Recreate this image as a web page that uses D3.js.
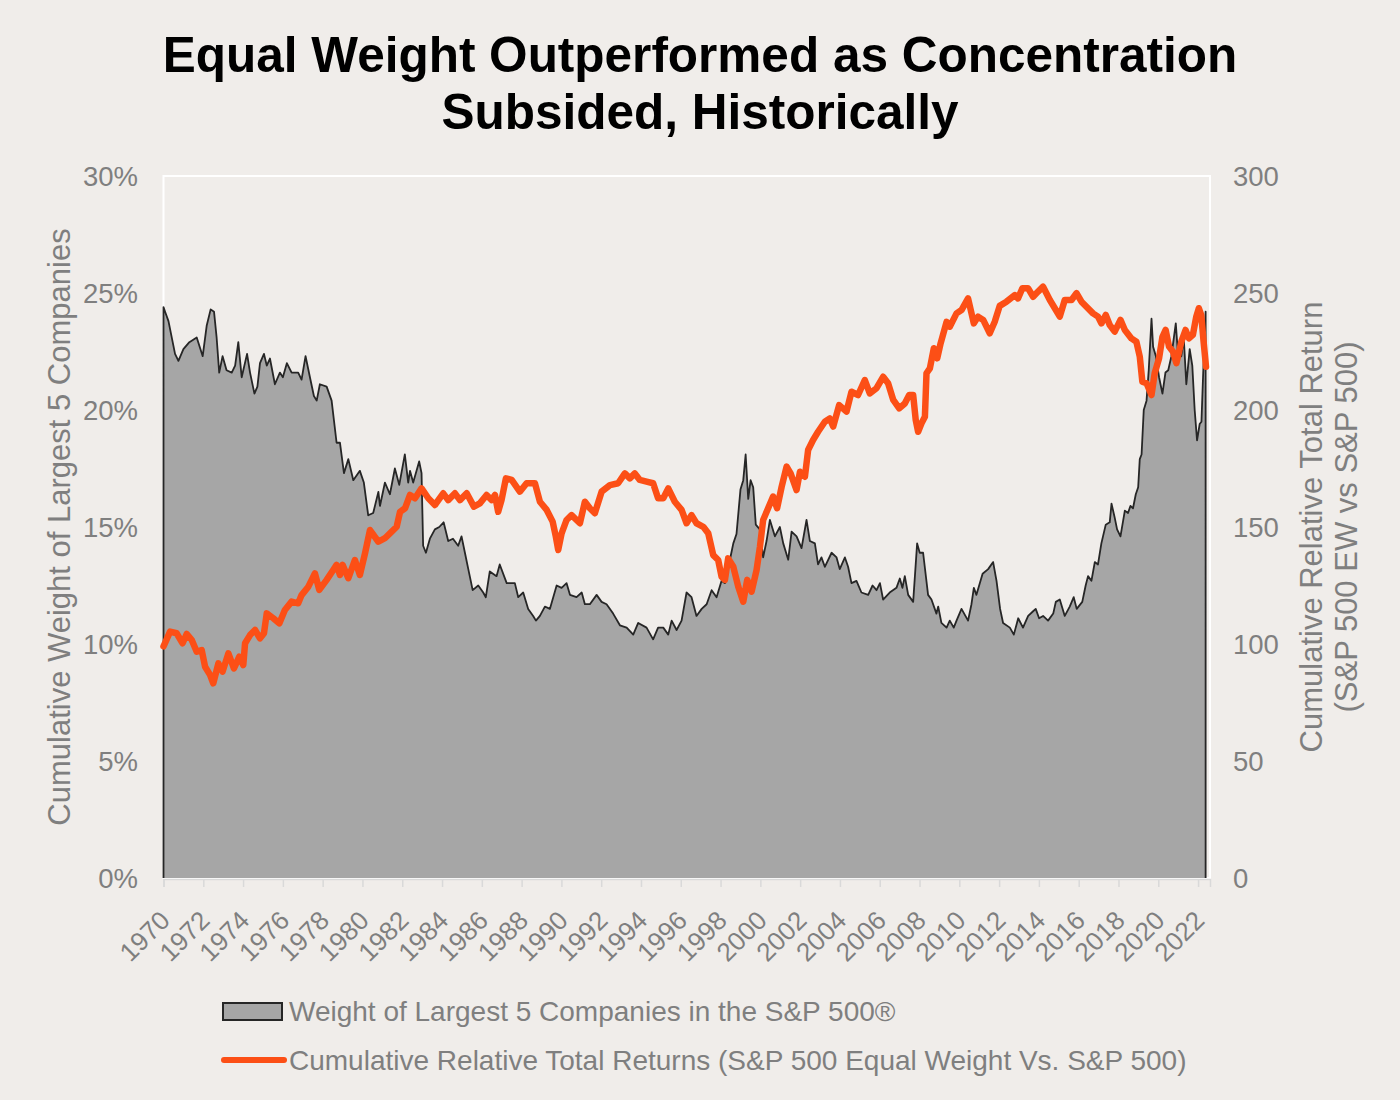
<!DOCTYPE html>
<html>
<head>
<meta charset="utf-8">
<title>Equal Weight Outperformed as Concentration Subsided</title>
<script src="https://cdnjs.cloudflare.com/ajax/libs/d3/7.8.5/d3.min.js"></script>
<style>
    html, body {
        margin: 0;
        padding: 0;
        background-color: #f0edea;
    }
    #chart {
        width: 1400px;
        height: 1100px;
    }
    .axis-text {
        font-family: 'Liberation Sans', Arial, sans-serif;
        fill: #7f7f7f;
    }
</style>
</head>
<body>
<div id="chart"></div>
<script>
    // weight of largest 5 companies (% of S&P 500)
    const weightYears = [
        1970.00, 1970.08, 1970.25, 1970.58, 1970.75, 1971.00, 1971.30, 1971.67, 1971.97, 1972.17,
        1972.37, 1972.54, 1972.67, 1972.80, 1972.97, 1973.17, 1973.43, 1973.60, 1973.76, 1973.93,
        1974.20, 1974.35, 1974.57, 1974.72, 1974.85, 1975.05, 1975.19, 1975.35, 1975.60, 1975.85,
        1976.00, 1976.20, 1976.44, 1976.77, 1976.94, 1977.14, 1977.36, 1977.56, 1977.70, 1977.86,
        1978.20, 1978.45, 1978.70, 1978.87, 1979.07, 1979.29, 1979.54, 1979.87, 1980.07, 1980.29,
        1980.54, 1980.80, 1980.88, 1981.13, 1981.38, 1981.63, 1981.85, 1982.13, 1982.30, 1982.39,
        1982.55, 1982.85, 1982.97, 1983.05, 1983.19, 1983.39, 1983.64, 1983.86, 1984.08, 1984.31,
        1984.55, 1984.81, 1984.98, 1985.15, 1985.32, 1985.54, 1985.82, 1986.07, 1986.20, 1986.40,
        1986.74, 1986.90, 1987.25, 1987.66, 1987.83, 1988.08, 1988.33, 1988.58, 1988.72, 1988.92,
        1989.17, 1989.42, 1989.76, 1990.01, 1990.26, 1990.43, 1990.76, 1991.02, 1991.18, 1991.43,
        1991.77, 1992.02, 1992.27, 1992.60, 1992.94, 1993.28, 1993.61, 1993.86, 1994.28, 1994.61,
        1994.86, 1995.12, 1995.37, 1995.54, 1995.79, 1996.04, 1996.29, 1996.54, 1996.79, 1997.05,
        1997.30, 1997.55, 1997.80, 1998.05, 1998.22, 1998.47, 1998.64, 1998.80, 1999.00, 1999.14,
        1999.26, 1999.39, 1999.51, 1999.64, 1999.77, 1999.97, 2000.14, 2000.31, 2000.48, 2000.73,
        2000.98, 2001.15, 2001.40, 2001.57, 2001.82, 2002.07, 2002.32, 2002.49, 2002.74, 2002.90,
        2003.07, 2003.24, 2003.58, 2003.83, 2003.99, 2004.25, 2004.41, 2004.58, 2004.83, 2005.08,
        2005.42, 2005.64, 2005.84, 2006.01, 2006.17, 2006.50, 2006.84, 2007.01, 2007.14, 2007.26,
        2007.43, 2007.68, 2007.88, 2008.01, 2008.18, 2008.43, 2008.60, 2008.85, 2008.94, 2009.10,
        2009.36, 2009.52, 2009.72, 2009.86, 2010.11, 2010.44, 2010.61, 2010.73, 2010.86, 2011.17,
        2011.45, 2011.70, 2011.87, 2012.05, 2012.20, 2012.54, 2012.74, 2012.96, 2013.20, 2013.46,
        2013.71, 2013.84, 2014.01, 2014.21, 2014.46, 2014.72, 2014.85, 2015.05, 2015.30, 2015.55,
        2015.75, 2015.90, 2016.18, 2016.35, 2016.47, 2016.64, 2016.81, 2016.97, 2017.14, 2017.36,
        2017.56, 2017.65, 2017.81, 2017.93, 2018.10, 2018.32, 2018.48, 2018.60, 2018.73, 2018.87,
        2018.99, 2019.07, 2019.16, 2019.27, 2019.41, 2019.52, 2019.66, 2019.74, 2019.88, 2020.04,
        2020.21, 2020.36, 2020.50, 2020.66, 2020.88, 2020.99, 2021.16, 2021.28, 2021.41, 2021.58,
        2021.71, 2021.83, 2021.95, 2022.08, 2022.17, 2022.25, 2022.38
    ];
    const weightPct = [
        24.4, 24.2, 23.8, 22.4, 22.1, 22.6, 22.9, 23.1, 22.3, 23.6,
        24.3, 24.2, 23.1, 21.6, 22.3, 21.7, 21.6, 21.9, 22.9, 21.4,
        22.4, 21.6, 20.7, 21.0, 22.0, 22.4, 21.9, 22.2, 21.1, 21.6,
        21.4, 22.0, 21.6, 21.6, 21.3, 22.3, 21.4, 20.6, 20.4, 21.1,
        21.0, 20.4, 18.6, 18.6, 17.3, 17.9, 17.0, 17.4, 16.9, 15.5,
        15.6, 16.5, 15.9, 16.9, 16.4, 17.5, 16.8, 18.1, 16.9, 17.4,
        16.9, 17.8, 17.3, 14.2, 13.9, 14.5, 14.9, 15.0, 15.2, 14.4,
        14.5, 14.2, 14.6, 13.9, 13.2, 12.3, 12.5, 12.2, 12.0, 13.1,
        12.9, 13.4, 12.6, 12.6, 12.0, 12.2, 11.5, 11.2, 11.0, 11.2,
        11.6, 11.5, 12.5, 12.4, 12.6, 12.1, 12.0, 12.2, 11.7, 11.7,
        12.1, 11.8, 11.7, 11.3, 10.8, 10.7, 10.4, 10.9, 10.7, 10.2,
        10.7, 10.7, 10.4, 11.0, 10.6, 11.0, 12.2, 12.0, 11.2, 11.5,
        11.7, 12.3, 12.0, 12.7, 12.6, 13.6, 14.3, 14.7, 16.6, 17.0,
        18.1, 16.2, 17.0, 16.7, 15.1, 14.9, 13.7, 14.4, 15.3, 14.6,
        15.0, 14.3, 13.6, 14.8, 14.6, 14.1, 15.3, 14.4, 14.3, 13.4,
        13.7, 13.3, 13.9, 13.7, 13.2, 13.7, 13.3, 12.6, 12.7, 12.2,
        12.1, 12.5, 12.3, 12.6, 11.9, 12.2, 12.4, 12.8, 12.4, 12.9,
        12.1, 11.8, 14.3, 13.9, 13.9, 12.1, 11.9, 11.3, 11.6, 10.9,
        10.7, 11.0, 10.7, 11.0, 11.5, 11.0, 11.7, 12.4, 12.1, 13.0,
        13.2, 13.5, 12.7, 11.5, 10.9, 10.7, 10.4, 11.1, 10.7, 11.2,
        11.4, 11.5, 11.1, 11.2, 11.0, 11.3, 11.8, 11.9, 11.2, 11.6,
        12.0, 11.5, 11.8, 12.5, 12.9, 12.7, 13.5, 13.4, 14.3, 15.1,
        15.2, 16.0, 15.4, 14.9, 14.6, 15.7, 15.6, 15.9, 15.8, 16.4,
        16.7, 17.9, 18.1, 20.0, 20.4, 21.7, 23.9, 22.7, 22.3, 21.4,
        20.7, 21.6, 21.7, 22.3, 23.7, 22.4, 22.3, 23.1, 21.1, 22.6,
        21.9, 20.0, 18.7, 19.4, 19.5, 21.4, 24.2
    ];

    // cumulative relative total return, S&P 500 EW vs S&P 500 (start = 100)
    const returnYears = [
        1970.00, 1970.08, 1970.33, 1970.66, 1970.96, 1971.17, 1971.42, 1971.67, 1971.92, 1972.09,
        1972.34, 1972.50, 1972.76, 1972.97, 1973.26, 1973.54, 1973.81, 1974.01, 1974.10, 1974.35,
        1974.60, 1974.85, 1975.05, 1975.19, 1975.52, 1975.82, 1976.10, 1976.44, 1976.77, 1976.94,
        1977.28, 1977.61, 1977.83, 1978.20, 1978.53, 1978.70, 1978.87, 1979.00, 1979.29, 1979.62,
        1979.87, 1980.13, 1980.38, 1980.80, 1981.13, 1981.47, 1981.72, 1981.89, 1982.14, 1982.39,
        1982.64, 1982.97, 1983.31, 1983.64, 1984.06, 1984.31, 1984.65, 1984.90, 1985.24, 1985.60,
        1985.90, 1986.24, 1986.49, 1986.66, 1986.82, 1986.99, 1987.21, 1987.50, 1987.91, 1988.25,
        1988.67, 1988.92, 1989.26, 1989.56, 1989.72, 1989.84, 1990.01, 1990.26, 1990.51, 1990.93,
        1991.18, 1991.43, 1991.68, 1992.02, 1992.44, 1992.85, 1993.19, 1993.44, 1993.69, 1993.94,
        1994.28, 1994.61, 1994.86, 1995.12, 1995.37, 1995.70, 1996.04, 1996.29, 1996.54, 1996.79,
        1997.13, 1997.38, 1997.63, 1997.88, 1998.05, 1998.22, 1998.38, 1998.64, 1998.89, 1999.14,
        1999.34, 1999.56, 1999.81, 1999.98, 2000.14, 2000.39, 2000.64, 2000.84, 2001.07, 2001.32,
        2001.52, 2001.82, 2001.99, 2002.24, 2002.40, 2002.65, 2002.90, 2003.24, 2003.49, 2003.66,
        2003.96, 2004.33, 2004.58, 2004.91, 2005.25, 2005.50, 2005.84, 2006.17, 2006.42, 2006.68,
        2006.98, 2007.26, 2007.48, 2007.68, 2007.81, 2007.93, 2008.10, 2008.27, 2008.35, 2008.52,
        2008.72, 2008.89, 2009.06, 2009.36, 2009.52, 2009.86, 2010.11, 2010.44, 2010.73, 2010.94,
        2011.20, 2011.53, 2011.78, 2012.03, 2012.37, 2012.79, 2012.95, 2013.17, 2013.46, 2013.71,
        2013.96, 2014.21, 2014.55, 2014.80, 2015.05, 2015.30, 2015.64, 2015.89, 2016.14, 2016.39,
        2016.72, 2016.97, 2017.14, 2017.36, 2017.56, 2017.81, 2018.10, 2018.32, 2018.65, 2018.90,
        2019.07, 2019.20, 2019.41, 2019.66, 2019.82, 2020.04, 2020.21, 2020.37, 2020.54, 2020.74,
        2020.91, 2021.16, 2021.37, 2021.54, 2021.74, 2021.91, 2022.04, 2022.16, 2022.27, 2022.40
    ];
    const returnIdx = [
        99.0, 100.5, 105.3, 104.6, 100.3, 104.3, 101.7, 96.7, 97.4, 90.3,
        86.8, 83.2, 91.7, 88.2, 96.0, 89.6, 94.6, 91.0, 100.3, 103.8,
        106.0, 102.4, 104.6, 113.1, 111.0, 108.8, 114.5, 118.1, 117.4, 120.9,
        124.5, 130.2, 123.1, 127.4, 131.6, 133.8, 129.5, 133.8, 128.1, 135.9,
        129.5, 138.8, 148.7, 143.7, 145.2, 148.0, 150.1, 156.5, 158.0, 163.7,
        162.3, 166.5, 162.3, 159.4, 164.4, 161.5, 164.4, 161.5, 164.4, 158.7,
        160.1, 163.7, 161.5, 163.7, 156.5, 161.5, 170.8, 170.1, 165.1, 168.7,
        168.7, 160.8, 157.3, 152.3, 145.9, 140.2, 147.3, 153.0, 155.1, 151.6,
        160.8, 158.0, 155.9, 165.1, 167.9, 168.7, 172.9, 170.8, 172.9, 170.1,
        169.4, 168.7, 162.3, 162.3, 166.5, 160.8, 157.3, 151.6, 155.1, 151.6,
        150.1, 147.3, 138.0, 135.9, 128.8, 127.4, 136.6, 133.0, 124.5, 118.1,
        127.4, 122.4, 131.6, 141.6, 153.0, 158.0, 163.0, 158.0, 167.2, 175.8,
        172.9, 165.8, 173.6, 171.5, 182.9, 187.2, 190.7, 195.0, 196.4, 192.9,
        202.1, 199.3, 207.8, 206.4, 212.8, 207.1, 209.3, 214.2, 211.4, 204.3,
        200.7, 202.8, 206.4, 206.4, 195.7, 190.7, 194.3, 197.1, 215.7, 217.8,
        226.4, 222.1, 228.5, 237.7, 235.6, 241.3, 242.7, 247.7, 237.0, 239.9,
        238.5, 232.8, 237.7, 244.5, 246.3, 249.1, 247.7, 252.0, 252.0, 248.4,
        250.6, 252.7, 247.0, 243.5, 239.9, 247.0, 247.0, 249.9, 246.3, 244.1,
        241.3, 239.9, 237.0, 240.6, 236.3, 233.5, 238.5, 234.2, 230.6, 229.2,
        222.8, 212.1, 211.4, 206.4, 215.7, 222.1, 231.3, 234.2, 227.1, 224.9,
        220.0, 229.2, 234.2, 230.6, 232.1, 239.9, 243.5, 240.6, 229.9, 218.5
    ];

    const xTickYears = d3.range(1970, 2023, 2);
    const leftTicks = [0, 5, 10, 15, 20, 25, 30];
    const rightTicks = [0, 50, 100, 150, 200, 250, 300];

    const titleLines = ['Equal Weight Outperformed as Concentration', 'Subsided, Historically'];
    const leftTitle = 'Cumulative Weight of Largest 5 Companies';
    const rightTitleLines = ['Cumulative Relative Total Return', '(S&P 500 EW vs S&P 500)'];
    const legendLabels = [
        'Weight of Largest 5 Companies in the S&P 500®',
        'Cumulative Relative Total Returns (S&P 500 Equal Weight Vs. S&P 500)'
    ];

    const grayFill = '#a6a6a6';
    const grayStroke = '#262626';
    const orange = '#fc4f16';

    const plot = { left: 163.5, right: 1210, top: 176, bottom: 878 };

    const svg = d3.select('#chart')
        .append('svg')
        .attr('width', 1400)
        .attr('height', 1100);

    svg.append('rect')
        .attr('width', 1400)
        .attr('height', 1100)
        .attr('fill', '#f0edea');

    const x = d3.scaleLinear().domain([1970, 2022.6]).range([plot.left, plot.right]);
    const yLeft = d3.scaleLinear().domain([0, 30]).range([plot.bottom, plot.top]);
    const yRight = d3.scaleLinear().domain([0, 300]).range([plot.bottom, plot.top]);

    // plot frame
    svg.append('rect')
        .attr('x', plot.left)
        .attr('y', plot.top)
        .attr('width', plot.right - plot.left)
        .attr('height', plot.bottom - plot.top)
        .attr('fill', 'none')
        .attr('stroke', '#ffffff')
        .attr('stroke-width', 2);

    // bottom axis with ticks
    const xAxis = d3.axisBottom(x)
        .tickValues(xTickYears)
        .tickSize(8)
        .tickFormat('');

    const gx = svg.append('g')
        .attr('transform', `translate(0,${plot.bottom + 1})`)
        .call(xAxis);
    gx.selectAll('path, line').attr('stroke', '#d9d9d9').attr('stroke-width', 1.5);

    svg.append('g')
        .selectAll('text')
        .data(xTickYears)
        .enter()
        .append('text')
        .attr('class', 'axis-text')
        .attr('transform', (d) => `translate(${x(d) + 8},${plot.bottom + 44}) rotate(-45)`)
        .attr('text-anchor', 'end')
        .style('font-size', '26px')
        .text((d) => d);

    // area for weights
    const weightData = weightYears.map((yr, i) => [yr, weightPct[i]]);
    const area = d3.area()
        .x((d) => x(d[0]))
        .y0(yLeft(0))
        .y1((d) => yLeft(d[1]));

    svg.append('path')
        .datum(weightData)
        .attr('fill', grayFill)
        .attr('d', area);

    const outline = [[weightYears[0], 0], ...weightData, [weightYears[weightYears.length - 1], 0]];
    svg.append('path')
        .datum(outline)
        .attr('fill', 'none')
        .attr('stroke', grayStroke)
        .attr('stroke-width', 1.8)
        .attr('stroke-linejoin', 'round')
        .attr('d', d3.line().x((d) => x(d[0])).y((d) => yLeft(d[1])));

    // relative return line
    const returnData = returnYears.map((yr, i) => [yr, returnIdx[i]]);
    svg.append('path')
        .datum(returnData)
        .attr('fill', 'none')
        .attr('stroke', orange)
        .attr('stroke-width', 6.5)
        .attr('stroke-linejoin', 'round')
        .attr('stroke-linecap', 'round')
        .attr('d', d3.line().x((d) => x(d[0])).y((d) => yRight(d[1])));

    // left axis labels
    svg.append('g')
        .selectAll('text')
        .data(leftTicks)
        .enter()
        .append('text')
        .attr('class', 'axis-text')
        .attr('x', 138)
        .attr('y', (d) => yLeft(d) + 10)
        .attr('text-anchor', 'end')
        .style('font-size', '27.5px')
        .text((d) => d + '%');

    // right axis labels
    svg.append('g')
        .selectAll('text')
        .data(rightTicks)
        .enter()
        .append('text')
        .attr('class', 'axis-text')
        .attr('x', 1233)
        .attr('y', (d) => yRight(d) + 10)
        .attr('text-anchor', 'start')
        .style('font-size', '27.5px')
        .text((d) => d);

    // axis titles
    svg.append('text')
        .attr('class', 'axis-text')
        .attr('transform', `translate(70,527) rotate(-90)`)
        .attr('text-anchor', 'middle')
        .style('font-size', '31px')
        .text(leftTitle);

    svg.append('g')
        .selectAll('text')
        .data(rightTitleLines)
        .enter()
        .append('text')
        .attr('class', 'axis-text')
        .attr('transform', (d, i) => `translate(${1322 + i * 35},527) rotate(-90)`)
        .attr('text-anchor', 'middle')
        .style('font-size', '31px')
        .text((d) => d);

    // title
    svg.append('g')
        .selectAll('text')
        .data(titleLines)
        .enter()
        .append('text')
        .attr('x', 700)
        .attr('y', (d, i) => 72 + i * 57)
        .attr('text-anchor', 'middle')
        .style('font-family', "'Liberation Sans', Arial, sans-serif")
        .style('font-weight', 'bold')
        .style('font-size', '49.5px')
        .style('fill', '#000000')
        .text((d) => d);

    // legend
    const legend = svg.append('g');
    legend.append('rect')
        .attr('x', 223)
        .attr('y', 1003)
        .attr('width', 59)
        .attr('height', 17)
        .attr('fill', grayFill)
        .attr('stroke', grayStroke)
        .attr('stroke-width', 2);
    legend.append('line')
        .attr('x1', 224)
        .attr('x2', 284)
        .attr('y1', 1060)
        .attr('y2', 1060)
        .attr('stroke', orange)
        .attr('stroke-width', 6)
        .attr('stroke-linecap', 'round');
    legend.selectAll('text.legend-label')
        .data(legendLabels)
        .enter()
        .append('text')
        .attr('class', 'axis-text legend-label')
        .attr('x', 289)
        .attr('y', (d, i) => 1021 + i * 49)
        .style('font-size', '28px')
        .text((d) => d);
</script>
</body>
</html>
